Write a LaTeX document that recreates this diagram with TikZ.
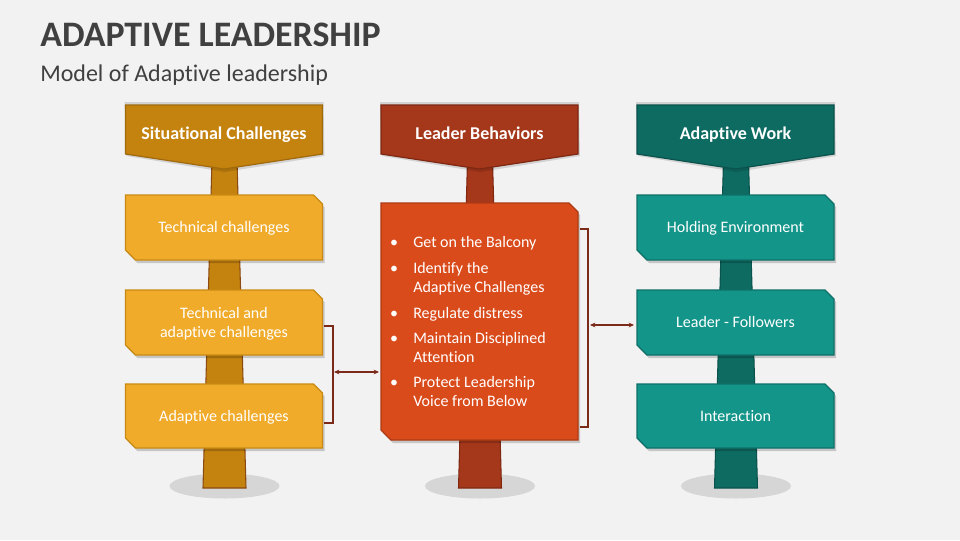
\documentclass[tikz,border=0pt]{standalone}
\usepackage{fontspec}
\setmainfont{Carlito}[Ligatures=NoCommon]
\usetikzlibrary{arrows.meta}
\definecolor{bg}{HTML}{F2F2F2}
\definecolor{titlec}{HTML}{404040}
\definecolor{ellc}{HTML}{D6D6D6}
\definecolor{lhead}{HTML}{C4820F}
\definecolor{lheadb}{HTML}{A06A0C}
\definecolor{lbox}{HTML}{F0AB2A}
\definecolor{lboxb}{HTML}{C98A13}
\definecolor{lpostb}{HTML}{8A4A12}
\definecolor{mhead}{HTML}{A5371A}
\definecolor{mheadb}{HTML}{7E2812}
\definecolor{mbox}{HTML}{DA4B1B}
\definecolor{mboxb}{HTML}{AE3913}
\definecolor{rhead}{HTML}{0E6B62}
\definecolor{rheadb}{HTML}{0A524B}
\definecolor{rbox}{HTML}{14958A}
\definecolor{rboxb}{HTML}{0E7068}
\definecolor{linkc}{HTML}{7B2A1A}
\newcommand{\headsign}[3]{%
 \fill[black,opacity=.13] ({#1-1},102) -- ({#1+198},102) -- ({#1+199},156) -- ({#1+99.5},172) -- ({#1+1},156) -- cycle;
 \filldraw[fill=#2,draw=#3,line width=0.9pt] (#1,105) -- ({#1+197},105) -- ({#1+197},154) -- ({#1+98.5},169) -- (#1,154) -- cycle;}
\newcommand{\cutbox}[6]{%
 \fill[black,opacity=.18] ({#1+2},{#2+3}) -- ({#3-7},{#2+3}) -- ({#3+2},{#2+12}) -- ({#3+2},{#4+3}) -- ({#1+12},{#4+3}) -- ({#1+2},{#4-7}) -- cycle;
 \filldraw[fill=#5,draw=#6,line width=1pt] (#1,#2) -- ({#3-9},#2) -- (#3,{#2+9}) -- (#3,#4) -- ({#1+10},#4) -- (#1,{#4-10}) -- cycle;}
\newcommand{\signpost}[3]{%
 \fill[ellc] (#1,486) ellipse [x radius=55, y radius=12.5];
 \filldraw[fill=#2,draw=#3,line width=0.8pt] ({#1-12.5},160) -- ({#1+12.5},160) -- ({#1+21.5},488) -- ({#1-21.5},488) -- cycle;}
\begin{document}
\begin{tikzpicture}[x=0.75pt,y=-0.75pt,
  headtxt/.style={text=white,font=\fontsize{13.5}{16}\selectfont\bfseries,inner sep=0pt,anchor=base},
  boxtxt/.style={text=white,font=\fontsize{12}{14.3}\selectfont,inner sep=0pt,anchor=base},
  itemtxt/.style={text=white,font=\fontsize{12}{14}\selectfont,anchor=base west,inner sep=0pt},
  bultxt/.style={text=white,font=\fontsize{12}{14}\selectfont,anchor=base,inner sep=0pt},
  bracket/.style={draw=linkc,line width=0.8pt},
  link/.style={draw=linkc,line width=0.8pt,{Stealth[length=4pt,width=3.5pt]}-{Stealth[length=4pt,width=3.5pt]}}]
\useasboundingbox (0,0) rectangle (960,540);
\fill[bg] (0,0) rectangle (960,540);
% title
\node[anchor=base west,inner sep=0pt,text=titlec,font=\fontsize{26.9}{30}\selectfont\bfseries] (title) at (40,46) {ADAPTIVE LEADERSHIP};
\node[anchor=base west,inner sep=0pt,text=titlec,font=\fontsize{18}{21}\selectfont] (subtitle) at (40,81) {Model of Adaptive leadership};
% posts
\signpost{224.5}{lhead}{lpostb}
\signpost{480}{mhead}{mheadb}
\signpost{736}{rhead}{rheadb}
% headers
\headsign{125.5}{lhead}{lheadb}
\headsign{381}{mhead}{mheadb}
\headsign{637}{rhead}{rheadb}
\node[headtxt] (h1) at (224,139) {Situational Challenges};
\node[headtxt] (h2) at (479.5,139) {Leader Behaviors};
\node[headtxt] (h3) at (735.5,139) {Adaptive Work};
% left boxes
\cutbox{125.5}{195}{322.5}{260}{lbox}{lboxb}
\cutbox{125.5}{290}{322.5}{355}{lbox}{lboxb}
\cutbox{125.5}{384}{322.5}{448}{lbox}{lboxb}
\node[boxtxt] (l1) at (224,232.5) {Technical challenges};
\node[boxtxt] (l2) at (224,318) {Technical and};
\node[boxtxt] (l2b) at (224,337) {adaptive challenges};
\node[boxtxt] (l3) at (224,421) {Adaptive challenges};
% middle box
\cutbox{381}{203}{578}{440}{mbox}{mboxb}
\node[bultxt] (m1b) at (394,247) {•};
\node[itemtxt] (m1) at (413,247) {Get on the Balcony};
\node[bultxt] (m2b) at (394,273) {•};
\node[itemtxt] (m2) at (413,273) {Identify the};
\node[itemtxt] (m2c) at (413,292) {Adaptive Challenges};
\node[bultxt] (m3b) at (394,318) {•};
\node[itemtxt] (m3) at (413,318) {Regulate distress};
\node[bultxt] (m4b) at (394,343) {•};
\node[itemtxt] (m4) at (413,343) {Maintain Disciplined};
\node[itemtxt] (m4c) at (413,362) {Attention};
\node[bultxt] (m5b) at (394,387) {•};
\node[itemtxt] (m5) at (413,387) {Protect Leadership};
\node[itemtxt] (m5c) at (413,406) {Voice from Below};
% right boxes
\cutbox{637}{195}{834}{260}{rbox}{rboxb}
\cutbox{637}{290}{834}{355}{rbox}{rboxb}
\cutbox{637}{384}{834}{448}{rbox}{rboxb}
\node[boxtxt] (r1) at (735.5,232.5) {Holding Environment};
\node[boxtxt] (r2) at (735.5,327.5) {Leader - Followers};
\node[boxtxt] (r3) at (735.5,421) {Interaction};
% brackets and links
\coordinate (lbt) at (324,326);
\coordinate (lbb) at (324,423);
\draw[bracket] (lbt) -- ++(9,0) -- ++(0,97) -- (lbb);
\coordinate (la1) at (334,372);
\coordinate (la2) at (379,372);
\draw[link] (la1) -- (la2);
\coordinate (rbt) at (580,229);
\coordinate (rbb) at (580,427);
\draw[bracket] (rbt) -- ++(8,0) -- ++(0,198) -- (rbb);
\coordinate (ra1) at (590,325);
\coordinate (ra2) at (634,325);
\draw[link] (ra1) -- (ra2);
\end{tikzpicture}
\end{document}
